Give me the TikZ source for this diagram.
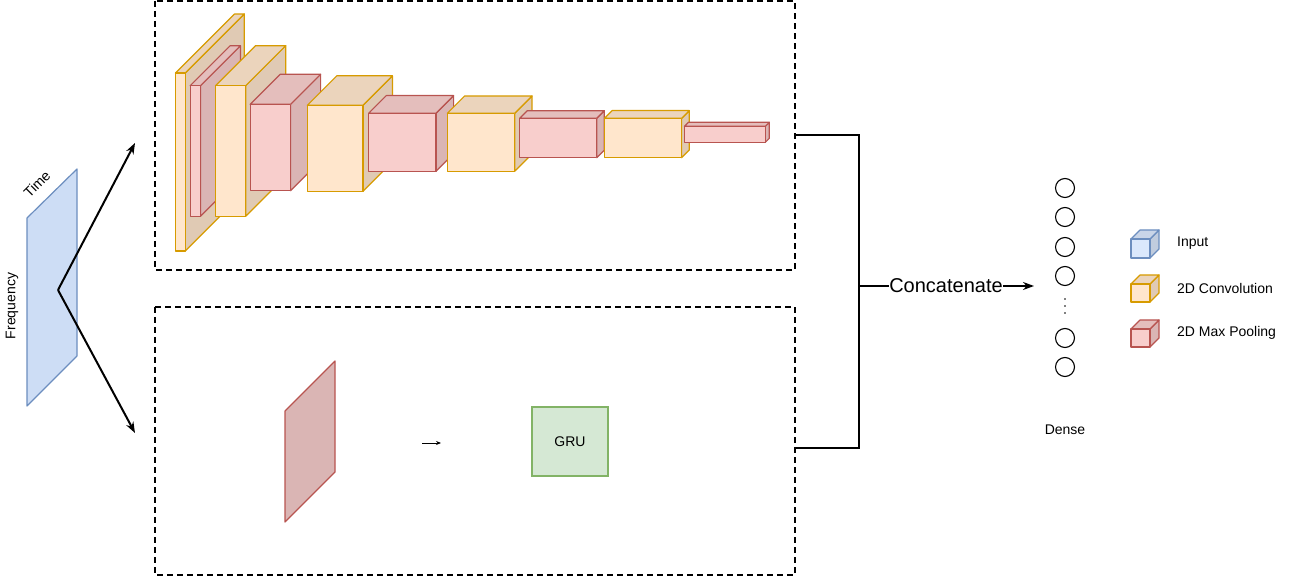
\documentclass[tikz,border=0pt]{standalone}
\usepackage{fontspec}
\setmainfont{Liberation Sans}
\usetikzlibrary{arrows.meta}
\definecolor{convF}{HTML}{FFE6CC}\definecolor{convS}{HTML}{D79B00}
\definecolor{poolF}{HTML}{F8CECC}\definecolor{poolS}{HTML}{B85450}
\definecolor{inpF}{HTML}{DAE8FC}\definecolor{inpS}{HTML}{6C8EBF}
\definecolor{gruF}{HTML}{D5E8D4}\definecolor{gruS}{HTML}{82B366}
\newcommand\mycube[6]{% x1,y1,x2,y2,d,kind
  \draw[#6, fill=#6F!88!black] (#3,#2) -- ++(#5,-#5) -- (#3+#5,#4-#5) -- (#3,#4) -- cycle;
  \draw[#6, fill=#6F!92!black] (#1,#2) -- ++(#5,-#5) -- (#3+#5,#2-#5) -- (#3,#2) -- cycle;
  \draw[#6, fill=#6F] (#1,#2) rectangle (#3,#4);}
\tikzset{
  conv/.style={draw=convS, line width=1.2pt, line join=round},
  pool/.style={draw=poolS, line width=1.2pt, line join=round},
  inp/.style={draw=inpS, line width=1.2pt, line join=round},
  frame/.style={draw, line width=1.8pt, dash pattern=on 6pt off 4pt},
  arr/.style={-{Stealth[length=11pt,width=8pt]}, line width=2pt},
  lbl/.style={font=\fontsize{14}{16}\selectfont, inner sep=0pt},
  neuron/.style={circle, draw, line width=1.1pt, minimum size=19pt, inner sep=0pt}
}
\begin{document}
\begin{tikzpicture}[x=1pt,y=-1pt]
\useasboundingbox (0,0) rectangle (1291,577);
% frames
\draw[frame] (155,1) rectangle (795,270);
\draw[frame] (155,307) rectangle (795,575);
% input
\draw[inp, fill=inpF!88!inpS] (27,218) -- (77,169) -- (77,356) -- (27,406) -- cycle;
\node[lbl, rotate=45] (time) at (37,184) {Time};
\node[lbl, rotate=90] (freq) at (12,306) {Frequency};
\coordinate (split) at (58,290);
\coordinate (up) at (135,143);
\coordinate (down) at (135,433);
\draw[arr] (split) -- (up);
\draw[arr] (split) -- (down);
% CNN
\mycube{175.5}{73}{185.3}{251}{59}{conv}
\mycube{190.2}{85.7}{200.4}{216.3}{40}{pool}
\mycube{215.5}{85.7}{245.7}{216.3}{40}{conv}
\mycube{250.2}{104.3}{290.6}{190.7}{30}{pool}
\mycube{307.3}{105.3}{362.9}{191.3}{29.5}{conv}
\mycube{368.6}{113.3}{435.9}{171.3}{17.7}{pool}
\mycube{447.3}{113.3}{514.7}{171.3}{17.3}{conv}
\mycube{519.6}{118.3}{596.7}{157.7}{7.6}{pool}
\mycube{604.5}{118.3}{681.6}{157.7}{7.7}{conv}
\mycube{684.5}{126.3}{765.3}{142.3}{4}{pool}
% RNN branch
\draw[pool, fill=poolF!88!black] (285,411) -- (335,361) -- (335,472) -- (285,522) -- cycle;
\coordinate (sa) at (422,443);
\coordinate (sb) at (441,443);
\draw[-{Stealth[length=5pt,width=4pt]}, line width=0.9pt] (sa) -- (sb);
\node[draw=gruS, fill=gruF, line width=1.2pt, minimum width=76pt, minimum height=69pt, lbl] (gru) at (570,441.5) {GRU};
% bracket
\coordinate (b1) at (795,135);
\coordinate (b2) at (859,135);
\coordinate (b3) at (859,448);
\coordinate (b4) at (795,448);
\draw[line width=2pt] (b1) -- (b2) -- (b3) -- (b4);
\coordinate (bm) at (859,286);
\node[inner sep=0.5pt, font=\fontsize{20}{22}\selectfont] (concat) at (946,286) {Concatenate};
\draw[line width=2pt] (bm) -- (concat.west);
\coordinate (dense) at (1034,286);
\draw[arr] (concat.east) -- (dense);
% dense
\foreach \y [count=\i] in {188,217,247,276,338,367} \node[neuron] (n\i) at (1065,\y) {};
\foreach \y [count=\i] in {299,306,313} \fill (1065,\y) coordinate (d\i) circle (0.9pt);
\node[lbl] (denselbl) at (1065,430) {Dense};
% legend
\mycube{1131}{239}{1150}{258}{9}{inp}
\mycube{1131}{284}{1150}{302}{9}{conv}
\mycube{1131}{329}{1150}{347}{9}{pool}
\node[lbl, anchor=west] (l1) at (1177,243) {Input};
\node[lbl, anchor=west] (l2) at (1177,288) {2D Convolution};
\node[lbl, anchor=west] (l3) at (1177,333) {2D Max Pooling};
\end{tikzpicture}
\end{document}
